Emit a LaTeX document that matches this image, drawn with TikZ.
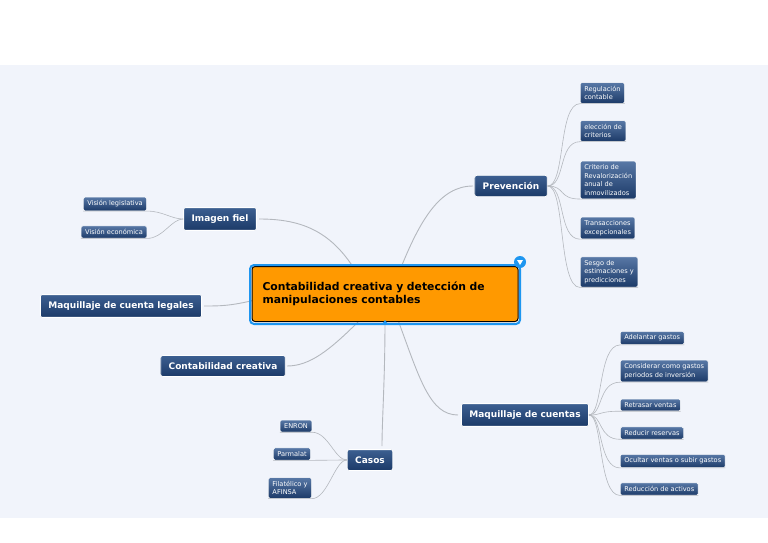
\documentclass[tikz,border=0pt]{standalone}
\usepackage{fontspec}
\setmainfont{DejaVu Sans}
\begin{document}
\begin{tikzpicture}[x=1pt,y=-1pt,
 topic/.style={rounded corners=2pt,draw=white,line width=0.8pt,top color=blueA,bottom color=blueB,text=white,font=\fontsize{9}{10}\selectfont\bfseries,inner xsep=8pt,inner ysep=7pt},
 sub/.style={rounded corners=1.5pt,draw=white,line width=0.5pt,top color=blueC,bottom color=blueB,text=white,font=\fontsize{6.6}{8.5}\selectfont,align=left,inner xsep=4pt,inner ysep=3.5pt,anchor=west},
 con/.style={draw=lineg,line width=0.9pt},
 scon/.style={draw=lineg,line width=0.6pt}]
\definecolor{blueA}{HTML}{3C5F91}
\definecolor{blueB}{HTML}{1C3A68}
\definecolor{blueC}{HTML}{5878A6}
\definecolor{lineg}{HTML}{B4B8BE}
\definecolor{bgc}{HTML}{F1F4FB}
\definecolor{hl}{RGB}{30,150,240}
\definecolor{orng}{HTML}{FF9900}
\useasboundingbox (0,0) rectangle (768,543);
\fill[bgc] (0,65) rectangle (768,518);
% central connectors (behind)
\draw[con] (400,270) .. controls (420,220) and (440,186) .. (473,186);
\draw[con] (355,270) .. controls (330,230) and (300,219) .. (259,219);
\draw[con] (255,300) .. controls (230,306) and (220,306) .. (204,306);
\draw[con] (360,320) .. controls (330,350) and (310,366) .. (287,366);
\draw[con] (385,320) .. controls (385,380) and (382,420) .. (382,446);
\draw[con] (398,320) .. controls (420,380) and (430,415) .. (458,415);
% central
\node[draw=black,line width=1pt,fill=orng,rounded corners=3pt,minimum width=266pt,minimum height=55pt,text width=245pt,align=left,font=\fontsize{10.8}{13}\selectfont\bfseries] (c) at (385,294) {Contabilidad creativa y detección de\\manipulaciones contables};
\draw[hl,line width=2pt,rounded corners=4pt] (250,265) rectangle (520,324);
\fill[hl] (520,262) circle (6pt);
\fill[white] (517,260) -- (523,260) -- (520,265) -- cycle;
\fill[hl] (382,324) -- (388,324) -- (385,320) -- cycle;
% topics
\node[topic] (p) at (511,186) {Prevención};
\node[topic] (i) at (220,219) {Imagen fiel};
\node[topic] (l) at (121,306) {Maquillaje de cuenta legales};
\node[topic] (cc) at (223,366) {Contabilidad creativa};
\node[topic] (k) at (370,460) {Casos};
\node[topic] (m) at (525,415) {Maquillaje de cuentas};
% subs
\node[sub,anchor=center] (i1) at (115,204) {Visión legislativa};
\node[sub,anchor=center] (i2) at (114,232) {Visión económica};
\node[sub,anchor=center] (k1) at (296,426) {ENRON};
\node[sub,anchor=center] (k2) at (292,454) {Parmalat};
\node[sub,anchor=center] (k3) at (290,488) {Filatélico y\\AFINSA};
\node[sub] (p1) at (580,93) {Regulación\\contable};
\node[sub] (p2) at (580,131) {elección de\\criterios};
\node[sub] (p3) at (580,180) {Criterio de\\Revalorización\\anual de\\inmovilizados};
\node[sub] (p4) at (580,228) {Transacciones\\excepcionales};
\node[sub] (p5) at (580,272) {Sesgo de\\estimaciones y\\predicciones};
\node[sub] (m1) at (620,338) {Adelantar gastos};
\node[sub] (m2) at (620,371) {Considerar como gastos\\periodos de inversión};
\node[sub] (m3) at (620,405) {Retrasar ventas};
\node[sub] (m4) at (620,433) {Reducir reservas};
\node[sub] (m5) at (620,461) {Ocultar ventas o subir gastos};
\node[sub] (m6) at (620,489) {Reducción de activos};
% sub connectors
\foreach \n in {p1,p2,p3,p4,p5}
 \draw[scon] (p.east) .. controls ([xshift=18pt]p.east) and ([xshift=-22pt]\n.south west) .. (\n.south west) -- (\n.south east);
\foreach \n in {m1,m2,m3,m4,m5,m6}
 \draw[scon] (m.east) .. controls ([xshift=14pt]m.east) and ([xshift=-22pt]\n.south west) .. (\n.south west) -- (\n.south east);
\foreach \n in {i1,i2}
 \draw[scon] (i.west) .. controls ([xshift=-12pt]i.west) and ([xshift=16pt]\n.south east) .. (\n.south east) -- (\n.south west);
\foreach \n in {k1,k2,k3}
 \draw[scon] (k.west) .. controls ([xshift=-12pt]k.west) and ([xshift=16pt]\n.south east) .. (\n.south east) -- (\n.south west);
\end{tikzpicture}
\end{document}
